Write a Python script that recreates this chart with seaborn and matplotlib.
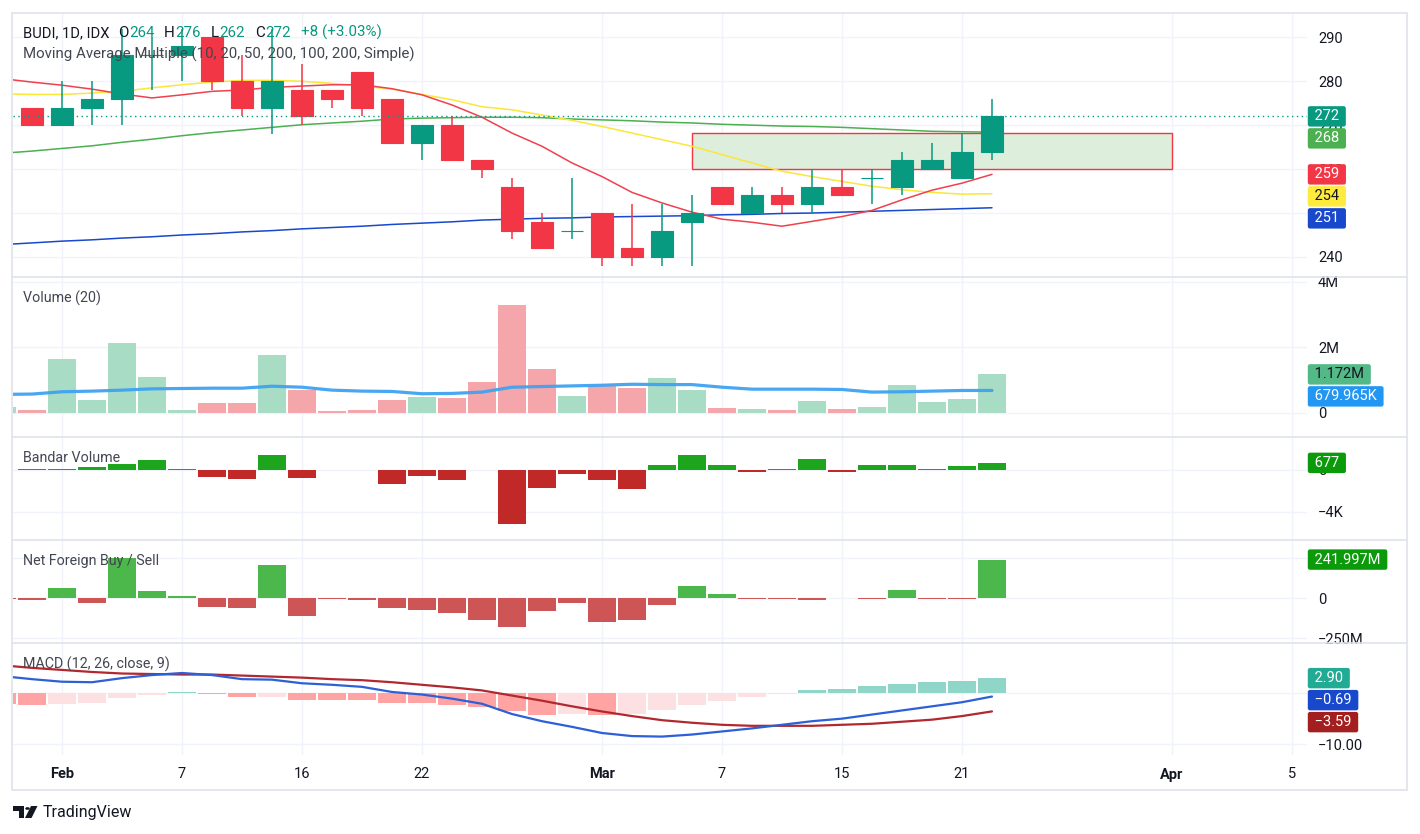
import numpy as np
import seaborn as sns
import matplotlib
matplotlib.use("Agg")
import matplotlib.pyplot as plt
from matplotlib.patches import Rectangle, Polygon, Circle
from matplotlib.lines import Line2D

# ---------------------------------------------------------------
# BUDI, 1D, IDX - candles + MA ribbon, volume, bandar, foreign, MACD
# bar index 0 = first full candle; index -1 = bar cut off at left edge
# ---------------------------------------------------------------
opens = [274, 270, 274, 276, 286, 286, 290, 280, 274, 278, 278, 282, 276, 266, 270, 262, 256,
         248, 246, 250, 242, 240, 248, 256, 250, 254, 252, 256, 258, 256, 260, 258, 264]
highs = [274, 280, 280, 292, 290, 292, 290, 286, 292, 284, 278, 282, 276, 270, 272, 262, 258,
         250, 258, 250, 252, 252, 254, 256, 256, 256, 260, 260, 260, 264, 266, 268, 276]
lows = [270, 270, 270, 270, 278, 280, 278, 272, 268, 270, 274, 272, 266, 262, 262, 258, 244,
        242, 244, 238, 238, 238, 238, 252, 250, 250, 250, 254, 252, 254, 260, 258, 262]
closes = [270, 274, 276, 286, 286, 288, 280, 274, 280, 272, 276, 274, 266, 270, 262, 260, 246,
          242, 246, 240, 240, 246, 250, 252, 254, 252, 256, 254, 258, 262, 262, 264, 272]

# moving averages, from bar -1 to bar 32
ma10 = [280.6, 279.8, 279.1, 278.2, 277.1, 276.2, 276.9, 277.7, 278.0, 278.6, 278.9, 279.2,
        279.2, 278.3, 276.9, 274.6, 271.8, 268.2, 265.2, 261.4, 258.3, 254.7, 252.3, 250.2,
        248.6, 247.9, 247.0, 248.1, 249.2, 250.6, 253.0, 255.2, 256.8, 258.8]
ma20 = [277.1, 277.0, 277.0, 277.3, 277.7, 278.5, 279.2, 279.8, 280.2, 280.2, 280.0, 279.5,
        278.9, 278.2, 277.0, 275.8, 274.2, 273.5, 272.3, 271.1, 269.7, 268.2, 266.7, 265.2,
        263.3, 261.4, 259.5, 258.3, 257.2, 256.1, 255.3, 254.7, 254.3, 254.4]
ma50 = [263.6, 264.1, 264.7, 265.3, 266.1, 266.8, 267.6, 268.3, 268.9, 269.5, 270.1, 270.5,
        270.9, 271.4, 271.6, 271.7, 271.8, 271.8, 271.7, 271.4, 271.2, 271.0, 270.7, 270.5,
        270.2, 270.0, 269.8, 269.7, 269.5, 269.2, 268.9, 268.6, 268.5, 268.4]
ma200 = [242.8, 243.2, 243.6, 243.9, 244.3, 244.6, 245.0, 245.3, 245.7, 246.0, 246.4, 246.7,
         247.0, 247.4, 247.7, 248.0, 248.4, 248.6, 248.8, 248.9, 249.1, 249.2, 249.3, 249.4,
         249.6, 249.7, 249.9, 250.0, 250.2, 250.4, 250.6, 250.8, 251.0, 251.2]

# drawn zone (bar positions / price)
zone_start, zone_end = 22, 38
zone_low, zone_high = 260, 268.2

# volume in millions, bar -1 .. 32
prev_bar_up = True
volume = [0.17, 0.08, 1.64, 0.39, 2.13, 1.09, 0.08, 0.30, 0.30, 1.77, 0.69, 0.05, 0.08, 0.39,
          0.48, 0.45, 0.94, 3.30, 1.34, 0.51, 0.82, 0.76, 1.06, 0.69, 0.14, 0.11, 0.08, 0.36,
          0.11, 0.17, 0.85, 0.33, 0.42, 1.172]
volume_ma = [0.56, 0.57, 0.64, 0.66, 0.69, 0.73, 0.74, 0.75, 0.75, 0.81, 0.78, 0.69, 0.66, 0.65,
             0.58, 0.59, 0.63, 0.78, 0.80, 0.82, 0.84, 0.87, 0.86, 0.86, 0.78, 0.72, 0.72, 0.72,
             0.71, 0.63, 0.64, 0.66, 0.68, 0.679965]

# bandar volume in thousands
bandar = [-0.03, 0.10, 0.10, 0.32, 0.57, 0.95, 0.10, -0.67, -0.86, 1.43, -0.76, -0.05, -0.05,
          -1.33, -0.57, -0.95, -0.05, -5.14, -1.71, -0.38, -0.95, -1.81, 0.48, 1.43, 0.48,
          -0.19, 0.05, 1.05, -0.19, 0.48, 0.48, 0.05, 0.38, 0.677]

# net foreign buy / sell in millions
foreign = [-6, -8, 67, -29, 250, 46, 15, -54, -60, 208, -110, -4, -10, -60, -73, -92, -135,
           -179, -79, -29, -148, -135, -42, 77, 27, -4, -4, -10, 2, -4, 52, -4, -4, 241.997]

# MACD (12, 26, close, 9)
macd_line = [3.3, 2.7, 2.2, 2.1, 2.9, 3.5, 3.9, 3.5, 2.7, 2.6, 1.9, 1.6, 1.2, 0.2, -0.3, -1.1,
             -2.1, -4.1, -5.5, -6.6, -7.8, -8.4, -8.5, -8.1, -7.5, -6.9, -6.2, -5.5, -5.0, -4.2,
             -3.4, -2.6, -1.8, -0.69]
signal_line = [5.4, 4.9, 4.5, 4.1, 3.8, 3.7, 3.6, 3.6, 3.4, 3.2, 3.0, 2.7, 2.5, 2.1, 1.6, 1.1,
               0.5, -0.5, -1.5, -2.6, -3.6, -4.5, -5.3, -5.8, -6.2, -6.4, -6.4, -6.4, -6.2,
               -6.0, -5.6, -5.2, -4.5, -3.59]
macd_hist = [-2.1, -2.4, -2.2, -2.0, -1.0, -0.45, 0.2, -0.26, -0.78, -0.74, -1.43, -1.43, -1.43,
             -2.0, -2.0, -2.4, -2.8, -3.6, -4.2, -4.15, -4.25, -4.0, -3.25, -2.3, -1.5, -0.7,
             -0.13, 0.65, 0.85, 1.4, 1.8, 2.2, 2.4, 2.90]

# time axis
tick_pos = [1, 5, 9, 13, 19, 23, 27, 31, 38, 42]
tick_labels = ["Feb", "7", "16", "22", "Mar", "7", "15", "21", "Apr", "5"]
month_labels = ["Feb", "Mar", "Apr"]

# ---------------------------------------------------------------
UP, DOWN = "#089981", "#f23645"
TXT = "#131722"
GRID = "#f0f3fa"
BORDER = "#e0e3eb"

sns.set_theme(style="white")
plt.rcParams["font.family"] = ["Roboto", "DejaVu Sans"]

W, H = 1420, 834
fig = plt.figure(figsize=(W / 100, H / 100), dpi=100)
fig.patch.set_facecolor("white")

PL, PR = 13, 1307


def add_panel(top, bottom, ylim):
    ax = fig.add_axes([PL / W, 1 - bottom / H, (PR - PL) / W, (bottom - top) / H])
    ax.set_xlim(-0.633, 42.5)
    ax.set_ylim(*ylim)
    for s in ax.spines.values():
        s.set_visible(False)
    ax.yaxis.tick_right()
    ax.tick_params(axis="y", length=0, pad=8, labelsize=10.5, labelcolor=TXT)
    ax.tick_params(axis="x", length=0)
    ax.set_xticks(tick_pos)
    ax.grid(True, color=GRID, linewidth=1)
    ax.set_axisbelow(True)
    return ax


idx = np.arange(len(closes))
idx_all = np.arange(-1, len(closes))
o, h, l, c = map(np.array, (opens, highs, lows, closes))
up = c >= o
cand_cols = np.where(up, UP, DOWN)

# ---- price panel (labels under the stacked badges are left blank)
ax = add_panel(13, 277, (235.44, 295.53))
ax.set_yticks([240, 250, 260, 270, 280, 290], ["240", "", "260", "270", "280", "290"])
ax.tick_params(axis="x", labelbottom=False)
ax.add_patch(Rectangle((zone_start, zone_low), zone_end - zone_start, zone_high - zone_low,
                       facecolor="#ddeedc", edgecolor=DOWN, linewidth=1, zorder=1))
for vals, col in [(ma200, "#1848cc"), (ma50, "#4caf50"), (ma20, "#fbe63a"), (ma10, "#f0404e")]:
    sns.lineplot(x=idx_all, y=vals, ax=ax, color=col, linewidth=1.1, zorder=2, legend=False)
ax.vlines(idx, l, h, colors=cand_cols, linewidth=1.1, zorder=3)
ax.bar(idx, np.abs(c - o), bottom=np.minimum(o, c), width=0.75, color=cand_cols,
       edgecolor=cand_cols, linewidth=0.8, zorder=4)
ax.axhline(closes[-1], color=UP, linestyle=(0, (1, 2.5)), linewidth=1, zorder=5)
ax.set_xlabel("")
ax.set_ylabel("")
ax_price = ax

# ---- volume panel
ax = add_panel(277, 437, (-0.743, 4.15))
ax.set_yticks([0, 2, 4], ["0", "2M", "4M"])
ax.tick_params(axis="x", labelbottom=False)
vol_up = [prev_bar_up] + list(up)
ax.bar(idx_all, volume, width=0.96, linewidth=0,
       color=["#a8dcc4" if u else "#f4a6ab" for u in vol_up], zorder=2)
sns.lineplot(x=idx_all, y=volume_ma, ax=ax, color="#3fa2f2", linewidth=2.3, alpha=0.95,
             zorder=3, legend=False)
ax.set_xlabel("")
ax.set_ylabel("")
ax_vol = ax

# ---- bandar volume
ax = add_panel(437, 540, (-6.67, 3.14))
ax.set_yticks([0, -4], ["0", "\u22124K"])
ax.tick_params(axis="x", labelbottom=False)
ax.bar(idx_all, bandar, width=0.96, linewidth=0,
       color=["#1ea51e" if v >= 0 else "#c12828" for v in bandar], zorder=2)
ax_band = ax

# ---- net foreign
ax = add_panel(540, 643, (-279.4, 364.4))
ax.set_yticks([250, 0, -250], ["", "0", "\u2212250M"])
ax.tick_params(axis="x", labelbottom=False)
ax.bar(idx_all, foreign, width=0.96, linewidth=0,
       color=["#4cb84c" if v >= 0 else "#cd5555" for v in foreign], zorder=2)
ax_for = ax

# ---- MACD
ax = add_panel(643, 755, (-12.09, 9.75))
ax.set_yticks([0, -10], ["", "\u221210.00"])
hist_cols = []
for k, v in enumerate(macd_hist):
    rising = k > 0 and v > macd_hist[k - 1]
    if v >= 0:
        hist_cols.append("#8fd6c9" if rising or k == 0 else "#c8ece6")
    else:
        hist_cols.append("#fde0e2" if rising else "#ffa3a3")
ax.bar(idx_all, macd_hist, width=0.96, linewidth=0, color=hist_cols, zorder=2)
sns.lineplot(x=idx_all, y=signal_line, ax=ax, color="#b2282f", linewidth=1.6, zorder=3,
             legend=False)
sns.lineplot(x=idx_all, y=macd_line, ax=ax, color="#2d5fd6", linewidth=1.6, zorder=4,
             legend=False)
ax.set_xlabel("")
ax.set_ylabel("")
ax.set_xticks(tick_pos, tick_labels)
ax.tick_params(axis="x", pad=9, labelsize=10.5, labelcolor=TXT)
for t in ax.get_xticklabels():
    if t.get_text() in month_labels:
        t.set_fontweight("bold")
ax_macd = ax

# ---- frame and pane separators
fig.add_artist(Rectangle((12 / W, 1 - 790 / H), (1407 - 12) / W, (790 - 13) / H,
                         transform=fig.transFigure, fill=False, edgecolor=BORDER, linewidth=1.2))
for yy in [277, 437, 540, 643]:
    fig.add_artist(Line2D([12 / W, 1407 / W], [1 - yy / H, 1 - yy / H],
                          transform=fig.transFigure, color=BORDER, linewidth=1.2))


# ---- price-scale badges, stacked so they do not overlap
def badges(axis, items, gap=22):
    prev = None
    for val, txt, bg, fg in items:
        y = axis.transData.transform((0, val))[1]
        if prev is not None and y > prev - gap:
            y = prev - gap
        prev = y
        fig.text(1311 / W, y / H, " " + txt + " ", ha="left", va="center", fontsize=10.5,
                 color=fg, zorder=10,
                 bbox=dict(boxstyle="round,pad=0.22,rounding_size=0.15", fc=bg, ec="none"))


badges(ax_price, [(closes[-1], f"{closes[-1]:.0f}", UP, "white"),
                  (ma50[-1], f"{ma50[-1]:.0f}", "#4caf50", "white"),
                  (ma10[-1], f"{ma10[-1]:.0f}", DOWN, "white"),
                  (ma20[-1], f"{ma20[-1]:.0f}", "#ffeb3b", TXT),
                  (ma200[-1], f"{ma200[-1]:.0f}", "#1848cc", "white")])
badges(ax_vol, [(volume[-1], f"{volume[-1]:.3f}M", "#53b987", TXT),
                (volume_ma[-1], f"{volume_ma[-1] * 1000:.3f}K", "#2196f3", "white")])
badges(ax_band, [(bandar[-1], f"{bandar[-1] * 1000:.0f}", "#0a9a0a", "white")])
badges(ax_for, [(foreign[-1], f"{foreign[-1]:.3f}M", "#0a9a0a", "white")])
badges(ax_macd, [(macd_hist[-1], f"{macd_hist[-1]:.2f}", "#22ab94", "white"),
                 (macd_line[-1], f"{macd_line[-1]:.2f}".replace("-", "\u2212"), "#1848cc", "white"),
                 (signal_line[-1], f"{signal_line[-1]:.2f}".replace("-", "\u2212"), "#a31e1e", "white")])

# ---- legends / titles
hdr = fig.text(23 / W, 1 - 33 / H, "BUDI, 1D, IDX", fontsize=10.6, color=TXT, va="center", zorder=11)
prev = hdr
chg = closes[-1] - closes[-2]
pieces = [("O", TXT, 6), (f"{opens[-1]}", UP, 0.5), ("H", TXT, 7), (f"{highs[-1]}", UP, 0.5),
          ("L", TXT, 7), (f"{lows[-1]}", UP, 0.5), ("C", TXT, 7), (f"{closes[-1]}", UP, 0.5),
          (f"+{chg} (+{chg / closes[-2] * 100:.2f}%)", UP, 7)]
for s, col, gap in pieces:
    prev = ax_price.annotate(s, xy=(1, 0), xycoords=prev, xytext=(gap, 0), textcoords="offset points",
                             ha="left", va="bottom", fontsize=10.9, color=col, zorder=11,
                             annotation_clip=False)

label_kw = dict(fontsize=10.3, color="#434651", va="center", zorder=11)
fig.text(23 / W, 1 - 54 / H, "Moving Average Multiple (10, 20, 50, 200, 100, 200, Simple)",
         fontsize=10.8, color="#434651", va="center", zorder=11)
fig.text(23 / W, 1 - 298 / H, "Volume (20)", **label_kw)
fig.text(23 / W, 1 - 458 / H, "Bandar Volume", **label_kw)
fig.text(23 / W, 1 - 561 / H, "Net Foreign Buy / Sell", **label_kw)
fig.text(23 / W, 1 - 664 / H, "MACD (12, 26, close, 9)", **label_kw)


# ---- TradingView footer
def px(x, y):
    return (x / W, 1 - y / H)


fig.add_artist(Polygon([px(13, 806), px(24, 806), px(24, 818), px(19, 818), px(19, 811), px(13, 811)],
                       closed=True, transform=fig.transFigure, facecolor=TXT, edgecolor="none"))
fig.add_artist(Circle(px(27.5, 808.5), 2.3 / W, transform=fig.transFigure, facecolor=TXT,
                      edgecolor="none"))
fig.add_artist(Polygon([px(31, 806), px(37.5, 806), px(31.5, 818), px(25, 818)], closed=True,
                       transform=fig.transFigure, facecolor=TXT, edgecolor="none"))
fig.text(43 / W, 1 - 813 / H, "TradingView", fontsize=11.5, color=TXT, va="center")

fig.savefig("out.png", dpi=100, facecolor="white")
